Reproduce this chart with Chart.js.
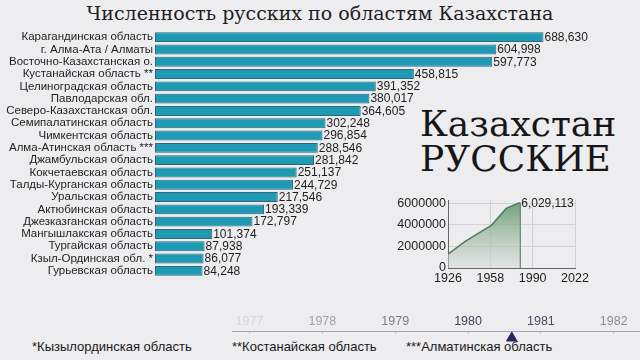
<!DOCTYPE html>
<html>
<head>
<meta charset="utf-8">
<script src="https://cdn.jsdelivr.net/npm/chart.js@4/dist/chart.umd.min.js"></script>
<style>
  html, body { margin:0; padding:0; }
  body { width:640px; height:360px; background:#edecee; position:relative; overflow:hidden; }
  canvas { position:absolute; }
  .t { position:absolute; white-space:nowrap; color:#1e1e1e; }
  #title { left:0; width:640px; text-align:center; top:4px; font:19px/19px "DejaVu Serif", serif; }
  .big { left:420px; font:36px/36px "DejaVu Serif", serif; color:#161616; }
  .fn { top:340px; font:13px/13px "Liberation Sans", sans-serif; color:#1a1a1a; }
</style>
</head>
<body>
<div id="title" class="t">Численность русских по областям Казахстана</div>
<div class="t big" style="top:106px">Казахстан</div>
<div class="t big" style="top:141px">РУССКИЕ</div>
<div class="t fn" style="left:32px">*Кызылординская область</div>
<div class="t fn" style="left:232px">**Костанайская область</div>
<div class="t fn" style="left:406px">***Алматинская область</div>

<canvas id="bars" width="640" height="360" style="left:0;top:0;width:640px;height:360px"></canvas>
<canvas id="inset" width="260" height="102" style="left:380px;top:188px;width:260px;height:102px"></canvas>
<canvas id="timeline" width="640" height="45" style="left:0;top:300px;width:640px;height:45px"></canvas>

<script>
// ---- data ----
const regions = [
  "Карагандинская область",
  "г. Алма-Ата / Алматы",
  "Восточно-Казахстанская о.",
  "Кустанайская область **",
  "Целиноградская область",
  "Павлодарская обл.",
  "Северо-Казахстанская обл.",
  "Семипалатинская область",
  "Чимкентская область",
  "Алма-Атинская область ***",
  "Джамбульская область",
  "Кокчетаевская область",
  "Талды-Курганская область",
  "Уральская область",
  "Актюбинская область",
  "Джезказганская область",
  "Мангышлакская область",
  "Тургайская область",
  "Кзыл-Ординская обл. *",
  "Гурьевская область"
];
const russians = [688630, 604998, 597773, 458815, 391352, 380017, 364605, 302248, 296854, 288546,
                  281842, 251137, 244729, 217546, 193339, 172797, 101374, 87938, 86077, 84248];

const totalYears = [1926, 1939, 1959, 1970, 1979, 1980.6];
const totalRussians = [1275055, 2458687, 3974229, 5521917, 5991205, 6029113];
const insetXTicks = [1926, 1958, 1990, 2022];
const insetYTicks = [0, 2000000, 4000000, 6000000];

const timelineYears = [1977, 1978, 1979, 1980, 1981, 1982];
const timelineColors = ["#d6d6dc", "#a2a2ac", "#7c7c8c", "#3f3f5e", "#4a4a62", "#8c8c98"];
const currentYear = 1980.6;

const fmt = v => Math.round(v).toLocaleString('en-US');

// ---- main bar chart ----
const valueLabels = {
  id: 'valueLabels',
  afterDatasetsDraw(chart) {
    const ctx = chart.ctx;
    const meta = chart.getDatasetMeta(0);
    ctx.save();
    ctx.font = '12px "Liberation Sans", sans-serif';
    ctx.fillStyle = '#1e1e1e';
    ctx.textBaseline = 'middle';
    ctx.textAlign = 'left';
    meta.data.forEach((el, i) => {
      ctx.fillText(fmt(russians[i]), el.x + 1, el.y + 0.5);
    });
    ctx.restore();
  }
};

new Chart(document.getElementById('bars'), {
  type: 'bar',
  data: {
    labels: regions,
    datasets: [{
      data: russians,
      backgroundColor: '#1f9ab5',
      borderColor: '#2b6878',
      borderWidth: 1,
      borderSkipped: false,
      barPercentage: 0.85,
      categoryPercentage: 0.95
    }]
  },
  options: {
    indexAxis: 'y',
    responsive: false,
    animation: false,
    layout: { padding: { top: 31, bottom: 83, left: 0, right: 10 } },
    plugins: { legend: { display: false }, tooltip: { enabled: false } },
    scales: {
      x: { display: false, min: 0, max: 842000 },
      y: {
        afterFit(scale) { scale.width = 155; },
        grid: { display: false, drawTicks: false },
        border: { display: false },
        ticks: {
          padding: 2,
          autoSkip: false,
          color: '#1e1e1e',
          font: { family: '"Liberation Sans", sans-serif', size: 11.5 }
        }
      }
    }
  },
  plugins: [valueLabels]
});

// ---- inset line chart ----
const endLabel = {
  id: 'endLabel',
  afterDatasetsDraw(chart) {
    const meta = chart.getDatasetMeta(0);
    const last = meta.data[meta.data.length - 1];
    const ctx = chart.ctx;
    ctx.save();
    ctx.font = '12px "Liberation Sans", sans-serif';
    ctx.fillStyle = '#1e1e1e';
    ctx.textBaseline = 'middle';
    ctx.fillText(fmt(totalRussians[totalRussians.length - 1]), last.x + 1, last.y + 1);
    ctx.restore();
  }
};

const pts = totalYears.map((y, i) => ({ x: y, y: totalRussians[i] }));
const lastX = totalYears[totalYears.length - 1];
const lastY = totalRussians[totalRussians.length - 1];

new Chart(document.getElementById('inset'), {
  type: 'line',
  data: {
    datasets: [{
      data: pts,
      borderColor: '#4e7d59',
      borderWidth: 1.5,
      pointRadius: 0,
      tension: 0,
      fill: 'origin',
      backgroundColor(c) {
        const a = c.chart.chartArea;
        if (!a) return 'rgba(100,150,110,0.5)';
        const g = c.chart.ctx.createLinearGradient(0, a.top, 0, a.bottom);
        g.addColorStop(0, 'rgba(90,150,100,0.9)');
        g.addColorStop(1, 'rgba(215,215,215,0.5)');
        return g;
      }
    }, {
      data: [{ x: lastX, y: lastY }, { x: lastX, y: 0 }],
      borderColor: '#708a78',
      borderWidth: 1,
      pointRadius: 0,
      fill: false
    }]
  },
  options: {
    responsive: false,
    animation: false,
    layout: { autoPadding: false, padding: { top: 12, bottom: 4, left: 0, right: 65 } },
    plugins: { legend: { display: false }, tooltip: { enabled: false } },
    scales: {
      x: {
        type: 'linear', min: 1926, max: 2022,
        afterFit(s) { s.height = 18; },
        afterBuildTicks(s) { s.ticks = insetXTicks.map(v => ({ value: v })); },
        grid: { color: '#d2d2d4', drawTicks: false },
        border: { color: '#666', width: 1 },
        ticks: { padding: 3, color: '#1e1e1e', maxRotation: 0, autoSkip: false,
                 font: { family: '"Liberation Sans", sans-serif', size: 12.5 },
                 callback: v => String(v) }
      },
      y: {
        min: 0, max: 6300000,
        afterFit(s) { s.width = 68; },
        afterBuildTicks(s) { s.ticks = insetYTicks.map(v => ({ value: v })); },
        grid: { color: '#d2d2d4', drawTicks: false },
        border: { color: '#666', width: 1 },
        ticks: { padding: 2, color: '#1e1e1e',
                 font: { family: '"Liberation Sans", sans-serif', size: 12.5 },
                 callback: v => String(v) }
      }
    }
  },
  plugins: [endLabel]
});

// ---- timeline ----
new Chart(document.getElementById('timeline'), {
  type: 'scatter',
  data: {
    datasets: [{
      data: [{ x: currentYear, y: 0 }],
      pointStyle: 'triangle',
      pointRadius: 6,
      backgroundColor: '#2a2560',
      borderColor: '#2a2560',
      clip: false
    }]
  },
  options: {
    responsive: false,
    animation: false,
    layout: { autoPadding: false, padding: { top: 0, bottom: 7, left: 232, right: 0 } },
    plugins: { legend: { display: false }, tooltip: { enabled: false } },
    scales: {
      x: {
        type: 'linear', position: 'top',
        min: 1976.76, max: 1982.36,
        afterFit(s) { s.height = 31; s.paddingLeft = 0; s.paddingRight = 0; },
        afterBuildTicks(s) { s.ticks = timelineYears.map(v => ({ value: v })); },
        grid: { drawOnChartArea: false, drawTicks: true, tickLength: -3, color: '#c4c4cc' },
        border: { color: '#a4a4ae', width: 1 },
        ticks: {
          padding: 5, maxRotation: 0, autoSkip: false,
          font: { family: '"Liberation Sans", sans-serif', size: 12.5 },
          color: c => timelineColors[timelineYears.indexOf(c.tick.value)] || '#888',
          callback: v => String(v)
        }
      },
      y: { display: false, min: 0, max: 1 }
    }
  }
});
</script>
</body>
</html>
